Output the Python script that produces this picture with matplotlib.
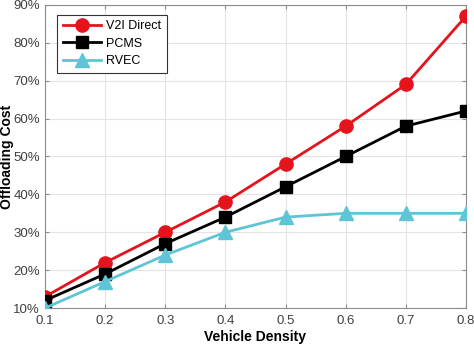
import matplotlib
matplotlib.use("Agg")
import matplotlib.pyplot as plt
from matplotlib.ticker import FuncFormatter

plt.rcParams['font.family'] = ['Liberation Sans', 'DejaVu Sans']

density = [0.1, 0.2, 0.3, 0.4, 0.5, 0.6, 0.7, 0.8]
v2i_direct = [13, 22, 30, 38, 48, 58, 69, 87]
pcms = [12, 19, 27, 34, 42, 50, 58, 62]
rvec = [10, 17, 24, 30, 34, 35, 35, 35]

fig = plt.figure(figsize=(4.74, 3.45), dpi=100)
ax = fig.add_axes([0.095, 0.107, 0.888, 0.879])

ax.plot(density, v2i_direct, color='#e5131b', lw=2, marker='o', ms=9.5, label='V2I Direct', zorder=3)
ax.plot(density, pcms, color='#000000', lw=2, marker='s', ms=8, label='PCMS', zorder=3)
ax.plot(density, rvec, color='#5ec5d6', lw=2, marker='^', ms=10, label='RVEC', zorder=3)

ax.set_xlim(0.1, 0.8)
ax.set_ylim(10, 90)
ax.set_xticks(density)
ax.set_xticklabels([f'{d:.1f}' for d in density])
ax.set_yticks(range(10, 91, 10))
ax.yaxis.set_major_formatter(FuncFormatter(lambda v, p: f'{v:.0f}%'))

ax.grid(True, color='#e3e3e3', lw=0.8)
ax.set_axisbelow(True)
for s in ax.spines.values():
    s.set_color('#8c8c8c')
    s.set_linewidth(0.8)
ax.tick_params(axis='both', direction='in', colors='#8c8c8c', labelcolor='#404040',
               labelsize=9.5, length=3, top=True, right=True)
ax.tick_params(axis='x', pad=5)

ax.set_xlabel('Vehicle Density', fontsize=10, fontweight='bold', labelpad=2)
ax.set_ylabel('Offloading Cost', fontsize=10, fontweight='bold')
ax.yaxis.set_label_coords(-0.073, 0.5)

leg = ax.legend(loc='upper left', bbox_to_anchor=(0.0285, 0.968), fontsize=9,
                fancybox=False, framealpha=1, edgecolor='#333333',
                handlelength=3.1, borderpad=0.45, labelspacing=0.45, handletextpad=0.4,
                borderaxespad=0)
leg.get_frame().set_linewidth(0.8)

fig.savefig('out.png', dpi=100)
